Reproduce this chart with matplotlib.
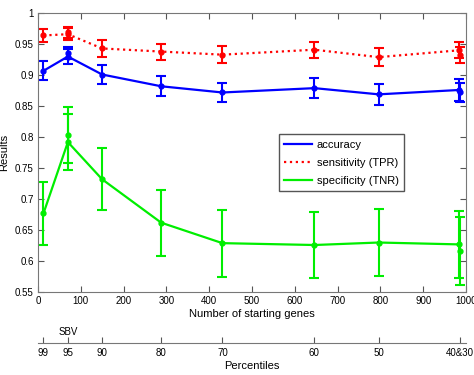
import matplotlib.pyplot as plt
from matplotlib.lines import Line2D
import numpy as np

plt.rcParams['font.family'] = ['Liberation Sans', 'DejaVu Sans']

# number of starting genes for each percentile cut
genes = [13, 70, 150, 288, 431, 646, 796, 983, 986]
pct_labels = ['99', '95', '90', '80', '70', '60', '50', '40&30']
pct_pos = [13, 70, 150, 288, 431, 646, 796, 985]

acc = [0.907, 0.930, 0.901, 0.882, 0.872, 0.879, 0.869, 0.876, 0.872]
acc_err = [0.015, 0.012, 0.015, 0.016, 0.016, 0.016, 0.017, 0.017, 0.016]
tpr = [0.964, 0.966, 0.943, 0.938, 0.933, 0.941, 0.929, 0.940, 0.932]
tpr_err = [0.011, 0.010, 0.013, 0.013, 0.014, 0.013, 0.014, 0.013, 0.013]
tnr = [0.677, 0.792, 0.732, 0.662, 0.629, 0.626, 0.630, 0.627, 0.616]
tnr_err = [0.051, 0.045, 0.050, 0.053, 0.054, 0.054, 0.054, 0.054, 0.055]

# SBV point (same gene count as 95 percentile)
sbv_x = 70
sbv_acc, sbv_acc_err = 0.936, 0.010
sbv_tpr, sbv_tpr_err = 0.969, 0.009
sbv_tnr, sbv_tnr_err = 0.803, 0.045

blue, red, green = '#0000ff', '#ff0000', '#00ee00'

fig = plt.figure(figsize=(4.74, 3.75), dpi=100)
ax = fig.add_axes([0.080, 0.221, 0.903, 0.744])

kw = dict(capsize=3.5, elinewidth=1.5, capthick=1.5, marker='o', markersize=3.5, lw=1.6)
ax.errorbar(genes, acc, yerr=acc_err, color=blue, ls='-', **kw)
ax.errorbar(genes, tpr, yerr=tpr_err, color=red, ls=':', **kw)
ax.errorbar(genes, tnr, yerr=tnr_err, color=green, ls='-', **kw)
ax.errorbar([sbv_x], [sbv_acc], yerr=[sbv_acc_err], color=blue, ls='none', **kw)
ax.errorbar([sbv_x], [sbv_tpr], yerr=[sbv_tpr_err], color=red, ls='none', **kw)
ax.errorbar([sbv_x], [sbv_tnr], yerr=[sbv_tnr_err], color=green, ls='none', **kw)

ax.set_xlim(0, 1000)
ax.set_ylim(0.55, 1.0)
ax.set_xticks(np.arange(0, 1001, 100))
yt = np.arange(0.55, 1.001, 0.05)
ax.set_yticks(yt)
ax.set_yticklabels(['%g' % round(v, 2) for v in yt])
ax.tick_params(direction='in', top=True, right=True, length=4, pad=3, labelsize=7,
               colors='#555555', labelcolor='black')
for s in ax.spines.values():
    s.set_color('#777777')
ax.set_xlabel('Number of starting genes', fontsize=8, labelpad=2)
ax.set_ylabel('Results', fontsize=8, labelpad=4)

handles = [Line2D([], [], color=blue, lw=1.6, ls='-'),
           Line2D([], [], color=red, lw=1.6, ls=':'),
           Line2D([], [], color=green, lw=1.6, ls='-')]
ax.legend(handles, ['accuracy', 'sensitivity (TPR)', 'specificity (TNR)'],
          loc='upper left', bbox_to_anchor=(0.563, 0.565), fontsize=8,
          fancybox=False, framealpha=1, edgecolor='#555555',
          handlelength=2.5, handletextpad=0.4, borderpad=0.5, labelspacing=0.7,
          borderaxespad=0)

# percentile axis below
sec = ax.secondary_xaxis(-0.182)
sec.set_xticks(pct_pos)
sec.set_xticklabels(pct_labels)
sec.tick_params(direction='in', length=4, pad=4, labelsize=7, colors='#555555', labelcolor='black')
sec.spines['bottom'].set_color('#777777')
sec.set_xlabel('Percentiles', fontsize=8, labelpad=2)
ax.annotate('SBV', xy=(sbv_x, 0), xycoords=('data', 'axes fraction'),
            xytext=(0, -29), textcoords='offset points', ha='center', va='center', fontsize=7)

fig.savefig('out.png', dpi=100)
